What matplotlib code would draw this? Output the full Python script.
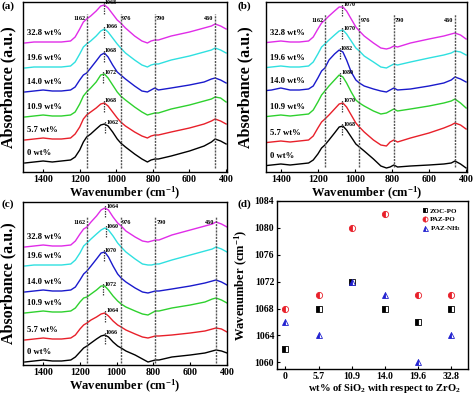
import matplotlib
matplotlib.use('Agg')
import matplotlib.pyplot as plt

plt.rcParams['font.family'] = ['Liberation Serif', 'DejaVu Serif']
plt.rcParams['font.weight'] = 'bold'
plt.rcParams['mathtext.fontset'] = 'custom'
plt.rcParams['mathtext.rm'] = 'Liberation Serif:bold'
plt.rcParams['mathtext.it'] = 'Liberation Serif:italic:bold'
plt.rcParams['mathtext.bf'] = 'Liberation Serif:bold'
plt.rcParams['mathtext.default'] = 'regular'

# ---------------- data ----------------
wavenumber = [1500, 1450, 1400, 1350, 1300, 1250, 1225, 1200, 1180, 1162, 1140, 1110,
              1085, 1065, 1045, 1020, 995, 976, 950, 900, 860, 830, 810, 790, 770,
              700, 600, 520, 480, 460, 430, 400]

sample_labels = ['0 wt%', '5.7 wt%', '10.9 wt%', '14.0 wt%', '19.6 wt%', '32.8 wt%']
silica_wt = ['0', '5.7', '10.9', '14.0', '19.6', '32.8']

# Panel (a) ZOC-PO spectra (a.u., stacked)
a_0 = [9, 10, 11, 10, 11, 12, 15, 22, 30, 35, 38, 43, 47, 48, 46, 40, 33, 29, 25, 18, 13, 10, 12, 13, 13, 16, 21, 26, 30, 33, 31, 28]
a_57 = [32, 33, 34, 33, 33, 34, 38, 45, 53, 57, 60, 64, 68, 69, 66, 60, 54, 50, 46, 40, 36, 34, 36, 37, 37, 40, 44, 48, 51, 53, 51, 48]
a_109 = [55, 56, 57, 56, 56, 57, 60, 68, 76, 80, 84, 90, 97, 98, 94, 87, 80, 76, 72, 65, 60, 57, 58, 59, 59, 63, 67, 71, 73, 75, 74, 70]
a_140 = [80, 81, 82, 81, 81, 82, 85, 92, 97, 99, 104, 111, 117, 119, 115, 107, 100, 97, 93, 86, 81, 80, 82, 84, 82, 84, 87, 90, 93, 94, 92, 89]
a_196 = [104, 105, 105, 105, 105, 106, 110, 118, 125, 128, 131, 136, 141, 143, 140, 134, 128, 124, 119, 112, 107, 105, 107, 108, 108, 112, 116, 120, 122, 124, 122, 119]
a_328 = [129, 130, 130, 130, 130, 131, 135, 143, 150, 153, 156, 161, 166, 167, 164, 158, 152, 149, 144, 136, 131, 129, 131, 132, 132, 136, 140, 144, 146, 148, 146, 143]

# Panel (b) PAZ-PO spectra
b_0 = [6, 7, 8, 7, 8, 9, 12, 18, 24, 27, 32, 39, 45, 46, 42, 35, 28, 25, 21, 13, 6, 4, 5, 7, 5, 6, 7, 8, 9, 11, 8, 4]
b_57 = [29, 30, 31, 30, 31, 32, 36, 44, 50, 53, 57, 63, 68, 69, 65, 57, 49, 45, 40, 32, 27, 26, 30, 32, 30, 34, 39, 44, 47, 49, 47, 43]
b_109 = [55, 56, 57, 56, 57, 58, 62, 70, 77, 81, 86, 92, 97, 95, 89, 80, 72, 69, 66, 61, 58, 59, 61, 63, 61, 63, 66, 69, 71, 73, 69, 64]
b_140 = [81, 82, 84, 82, 82, 83, 86, 94, 101, 104, 112, 118, 122, 120, 112, 100, 92, 89, 86, 83, 81, 80, 82, 84, 82, 83, 86, 89, 92, 95, 93, 90]
b_196 = [104, 105, 106, 105, 105, 106, 110, 118, 125, 128, 132, 137, 141, 142, 138, 131, 124, 121, 116, 110, 105, 104, 106, 108, 107, 110, 114, 117, 119, 121, 120, 117]
b_328 = [129, 130, 131, 130, 130, 131, 135, 143, 149, 152, 156, 161, 165, 165, 161, 153, 145, 141, 136, 129, 124, 123, 124, 126, 125, 129, 133, 136, 138, 139, 137, 133]

# Panel (c) PAZ-NH3 spectra
c_0 = [3, 4, 5, 4, 4, 5, 8, 13, 17, 19, 22, 26, 29, 30, 28, 23, 19, 17, 14, 10, 6, 3, 4, 5, 5, 8, 10, 12, 14, 15, 14, 12]
c_57 = [25, 26, 27, 26, 26, 27, 30, 36, 40, 42, 45, 48, 51, 52, 49, 44, 40, 38, 35, 31, 28, 27, 28, 29, 29, 30, 32, 34, 36, 37, 36, 33]
c_109 = [52, 53, 54, 53, 53, 54, 57, 63, 67, 68, 71, 75, 79, 79, 75, 69, 64, 61, 58, 54, 51, 50, 52, 54, 54, 57, 60, 63, 66, 67, 65, 62]
c_140 = [73, 74, 75, 74, 74, 75, 78, 85, 91, 94, 99, 106, 112, 113, 108, 99, 91, 87, 83, 77, 73, 72, 73, 74, 74, 76, 79, 82, 84, 85, 83, 80]
c_196 = [99, 100, 100, 100, 100, 101, 105, 112, 119, 122, 126, 131, 135, 137, 135, 129, 122, 118, 113, 106, 101, 100, 100, 101, 101, 105, 110, 114, 116, 118, 116, 113]
c_328 = [118, 119, 120, 119, 119, 120, 124, 131, 136, 138, 143, 149, 155, 157, 155, 148, 142, 139, 134, 128, 124, 123, 124, 125, 125, 130, 135, 139, 141, 143, 141, 138]

# Peak positions (cm-1) labelled on each spectrum / plotted in panel (d)
zoc_po_peak = [1062, 1068, 1072, 1068, 1066, 1068]
paz_po_peak = [1068, 1070, 1080, 1082, 1070, 1070]
paz_nh3_peak = [1066, 1064, 1072, 1070, 1060, 1064]

ref_bands = [1162, 976, 790, 460]

# ---------------- style ----------------
curve_colors = ['black', '#e8202a', '#2ed12e', '#1a1acc', '#2fe0e0', '#e02ce8']

W, H = 474, 395
fig = plt.figure(figsize=(W / 100, H / 100), dpi=100)


def frac(l, t, r, b):
    return [l / W, 1 - b / H, (r - l) / W, (b - t) / H]


def spectra_panel(rect, curves, peaks, xlim, ylim, band_top, band_bot, band_text_y, ylab_x):
    ax = fig.add_axes(rect)
    for y, c, lab, pk in zip(curves, curve_colors, sample_labels, peaks):
        ax.plot(wavenumber, y, color=c, lw=1.0)
        ax.text(xlim[0] - 20, y[0] + 10, lab, fontsize=6.2, fontweight='bold',
                ha='left', va='center')
        top = max(y)
        ax.plot([pk, pk], [top - 9, top + 3], color='#444444', lw=0.9, ls=(0, (1.2, 0.8)))
        ax.text(pk - 6, top + 2, str(pk), fontsize=4.3, ha='left', va='center')
    for bnd in ref_bands:
        ax.plot([bnd, bnd], [band_bot, band_top], color='#555555', lw=1.0, ls=(0, (1.5, 0.8)))
        if bnd in (1162, 460):
            ax.text(bnd + 8, band_text_y, str(bnd), fontsize=4.5, ha='right', va='center')
        else:
            ax.text(bnd - 6, band_text_y, str(bnd), fontsize=4.5, ha='left', va='center')
    ax.set_xlim(*xlim)
    ax.set_ylim(*ylim)
    ax.set_xticks([1400, 1200, 1000, 800, 600, 400])
    ax.set_yticks([])
    ax.tick_params(axis='x', direction='in', length=2, labelsize=7.2, pad=2)
    for lbl in ax.get_xticklabels():
        lbl.set_fontweight('bold')
    ax.set_xlabel('Wavenumber (cm$^{-1}$)', fontsize=9, fontweight='bold', labelpad=1)
    ax.set_ylabel('Absorbance (a.u.)', fontsize=11.5, fontweight='bold')
    ax.yaxis.set_label_coords(ylab_x, 0.5)
    for s in ax.spines.values():
        s.set_linewidth(1.0)
    return ax


ax_a = spectra_panel(frac(23, 2, 227, 172), [a_0, a_57, a_109, a_140, a_196, a_328],
                     zoc_po_peak, (1510, 395), (0, 170), 158, 4, 154, (16 - 23) / 204)
ax_b = spectra_panel(frac(266, 2, 467, 172), [b_0, b_57, b_109, b_140, b_196, b_328],
                     paz_po_peak, (1480, 395), (0, 170), 158, 5, 152, (253 - 266) / 201)
ax_c = spectra_panel(frac(23, 202, 227, 365), [c_0, c_57, c_109, c_140, c_196, c_328],
                     paz_nh3_peak, (1510, 400), (0, 163), 148, 2, 142, (16 - 23) / 204)

# Panel (d)
ax_d = fig.add_axes(frac(277, 201, 468, 369))
xs = list(range(len(silica_wt)))
ax_d.plot(xs, zoc_po_peak, ls='none', marker='s', ms=4, color='black', fillstyle='left',
          markerfacecoloralt='white', mec='black', mew=0.6, label='ZOC-PO')
ax_d.plot(xs, paz_po_peak, ls='none', marker='o', ms=4.5, color='#e8202a', fillstyle='left',
          markerfacecoloralt='white', mec='#e8202a', mew=0.6, label='PAZ-PO')
ax_d.plot(xs, paz_nh3_peak, ls='none', marker='^', ms=4.5, color='#2020d0', fillstyle='left',
          markerfacecoloralt='white', mec='#2020d0', mew=0.6, label='PAZ-NH$_3$')
ax_d.set_xlim(-0.25, 5.5)
ax_d.set_ylim(1059, 1084)
ax_d.set_xticks(xs)
ax_d.set_xticklabels(silica_wt)
ax_d.set_yticks(list(range(1060, 1085, 4)))
ax_d.tick_params(direction='in', length=2.5, labelsize=7, pad=2)
for lbl in ax_d.get_xticklabels() + ax_d.get_yticklabels():
    lbl.set_fontweight('bold')
ax_d.set_xlabel('wt% of SiO$_2$ with respect to ZrO$_2$', fontsize=7.6, fontweight='bold')
ax_d.xaxis.set_label_coords(0.565, -0.08)
ax_d.set_ylabel('Wavenumber (cm$^{-1}$)', fontsize=9, fontweight='bold')
ax_d.yaxis.set_label_coords((250 - 277) / 191, 0.5)
leg = ax_d.legend(loc='upper right', frameon=False, fontsize=5, handletextpad=0.3,
                  borderaxespad=0.6, labelspacing=0.35, handlelength=0.8, markerscale=0.8)
for s in ax_d.spines.values():
    s.set_linewidth(1.0)

# panel tags
fig.text(1 / W, 1 - 6 / H, '(a)', fontsize=8, fontweight='bold', ha='left', va='center')
fig.text(238 / W, 1 - 6 / H, '(b)', fontsize=8, fontweight='bold', ha='left', va='center')
fig.text(1 / W, 1 - 204 / H, '(c)', fontsize=8, fontweight='bold', ha='left', va='center')
fig.text(238 / W, 1 - 204 / H, '(d)', fontsize=8, fontweight='bold', ha='left', va='center')

fig.savefig('out.png', dpi=100)
